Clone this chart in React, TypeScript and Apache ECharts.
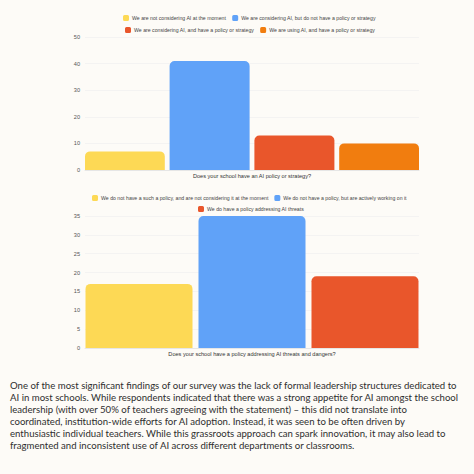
import { useEffect, useRef } from 'react';
import * as echarts from 'echarts';

// chart 1: Does your school have an AI policy or strategy?
const strategyQuestion = ['Does your school have an AI policy or strategy?'];
const strategyNames = [
    'We are not considering AI at the moment',
    'We are considering AI, but do not have a policy or strategy',
    'We are considering AI, and have a policy or strategy',
    'We are using AI, and have a policy or strategy'
];
const strategyValues = [7, 41, 13, 10];
const strategyColors = ['#fdd955', '#60a2f8', '#e9562b', '#f17d0f'];

// chart 2: Does your school have a policy addressing AI threats and dangers?
const threatQuestion = ['Does your school have a policy addressing AI threats and dangers?'];
const threatNames = [
    'We do not have a such a policy, and are not considering it at the moment',
    'We do not have a policy, but are actively working on it',
    'We do have a policy addressing AI threats'
];
const threatValues = [17, 35, 19];
const threatColors = ['#fdd955', '#60a2f8', '#e9562b'];

const paragraphLines = [
    'One of the most significant findings of our survey was the lack of formal leadership structures dedicated to',
    'AI in most schools. While respondents indicated that there was a strong appetite for AI amongst the school',
    'leadership (with over 50% of teachers agreeing with the statement) \u2013 this did not translate into',
    'coordinated, institution-wide efforts for AI adoption. Instead, it was seen to be often driven by',
    'enthusiastic individual teachers. While this grassroots approach can spark innovation, it may also lead to',
    'fragmented and inconsistent use of AI across different departments or classrooms.'
];

const BG = '#fdfbf7';
const FONT = '"Liberation Sans", Arial, sans-serif';

const legendBase = {
    itemWidth: 6,
    itemHeight: 6,
    itemGap: 6,
    icon: 'roundRect',
    textStyle: { fontSize: 5.2, color: '#444', fontFamily: FONT, padding: [0, 0, 0, -2] },
    padding: 0
};

const App = () => {
    const chartRef = useRef<HTMLDivElement>(null);

    useEffect(() => {
        if (!chartRef.current) return;
        const chart = echarts.init(chartRef.current, null, { renderer: 'svg' });

        const xAxisStyle = {
            type: 'category',
            axisTick: { show: false },
            axisLine: { lineStyle: { color: '#e6e6e6' } },
            axisLabel: { fontSize: 5.6, color: '#333', fontFamily: FONT, margin: 3 }
        };
        const yAxisStyle = {
            type: 'value',
            axisLabel: { fontSize: 5.6, color: '#555', fontFamily: FONT, margin: 5 },
            splitLine: { lineStyle: { color: '#efefef', width: 0.6 } }
        };

        const series: any[] = [];
        strategyNames.forEach((name, i) => {
            series.push({
                type: 'bar',
                name,
                xAxisIndex: 0,
                yAxisIndex: 0,
                data: [strategyValues[i]],
                barWidth: 80,
                barGap: '6%',
                itemStyle: { color: strategyColors[i], borderRadius: [5, 5, 0, 0] }
            });
        });
        threatNames.forEach((name, i) => {
            series.push({
                type: 'bar',
                name,
                xAxisIndex: 1,
                yAxisIndex: 1,
                data: [threatValues[i]],
                barWidth: 107,
                barGap: '5.6%',
                itemStyle: { color: threatColors[i], borderRadius: [5, 5, 0, 0] }
            });
        });

        chart.setOption({
            animation: false,
            backgroundColor: BG,
            legend: [
                { ...legendBase, top: 15, left: 123, data: strategyNames.slice(0, 2) },
                { ...legendBase, top: 27, left: 125, data: strategyNames.slice(2) },
                { ...legendBase, top: 195, left: 92, data: threatNames.slice(0, 2) },
                { ...legendBase, top: 206, left: 198, data: threatNames.slice(2) }
            ],
            grid: [
                { left: 85, right: 55, top: 37, height: 133 },
                { left: 85, right: 55, top: 216, height: 132 }
            ],
            xAxis: [
                { ...xAxisStyle, gridIndex: 0, data: strategyQuestion },
                { ...xAxisStyle, gridIndex: 1, data: threatQuestion }
            ],
            yAxis: [
                { ...yAxisStyle, gridIndex: 0, min: 0, max: 50, interval: 10 },
                { ...yAxisStyle, gridIndex: 1, min: 0, max: 35, interval: 5 }
            ],
            series,
            graphic: [
                {
                    type: 'text',
                    left: 10,
                    top: 379,
                    style: {
                        text: paragraphLines.join('\n'),
                        fontSize: 9.6,
                        lineHeight: 12.1,
                        fontFamily: 'Lato, sans-serif',
                        fill: '#2e2e2e'
                    }
                }
            ]
        });

        return () => {
            chart.dispose();
        };
    }, []);

    return (
        <div
            ref={chartRef}
            style={{ position: 'fixed', left: 0, top: 0, width: 474, height: 474, background: BG }}
        />
    );
};

export default App;
